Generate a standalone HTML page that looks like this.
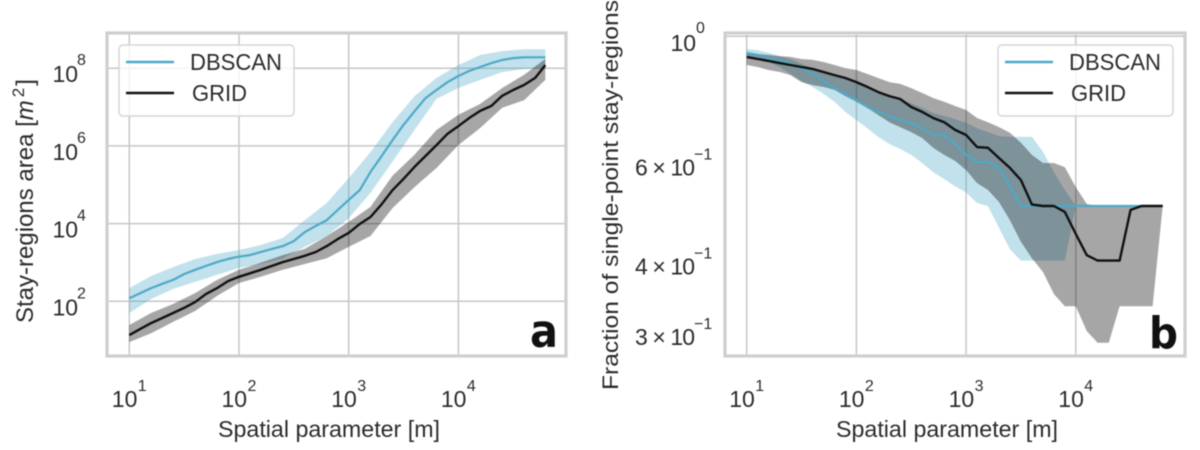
<!DOCTYPE html>
<html lang="en">
<head>
<meta charset="utf-8">
<title>Stay-regions charts</title>
<style>
html,body{margin:0;padding:0;background:#fff;width:1200px;height:450px;overflow:hidden}
svg{display:block;filter:blur(.45px)}
text{font-family:"Liberation Sans",sans-serif;fill:#2b2b2b}
.wm{font-family:"DejaVu Sans",sans-serif;font-weight:700;fill:#111}
</style>
</head>
<body>
<svg id="chart" xmlns="http://www.w3.org/2000/svg" width="1200" height="450" viewBox="0 0 1200 450">
  <g id="panel-a"></g>
  <g id="panel-b"></g>

  <g>
    <rect x="119" y="45" width="175" height="71" rx="4" fill="#fff" fill-opacity=".8" stroke="#d6d6d6" stroke-width="1.5"/>
    <line x1="126" x2="174" y1="62" y2="62" stroke="#4ea9c8" stroke-width="2.4"/>
    <text x="190" y="70" font-size="23" textLength="92" lengthAdjust="spacingAndGlyphs">DBSCAN</text>
    <line x1="126" x2="174" y1="93" y2="93" stroke="#111" stroke-width="2.4"/>
    <text x="192" y="101" font-size="23" textLength="55" lengthAdjust="spacingAndGlyphs">GRID</text>
  </g>
  <g>
    <rect x="998" y="45" width="175" height="71" rx="4" fill="#fff" fill-opacity=".8" stroke="#d6d6d6" stroke-width="1.5"/>
    <line x1="1005" x2="1053" y1="62" y2="62" stroke="#4ea9c8" stroke-width="2.4"/>
    <text x="1069" y="70" font-size="23" textLength="92" lengthAdjust="spacingAndGlyphs">DBSCAN</text>
    <line x1="1005" x2="1053" y1="93" y2="93" stroke="#111" stroke-width="2.4"/>
    <text x="1071" y="101" font-size="23" textLength="55" lengthAdjust="spacingAndGlyphs">GRID</text>
  </g>

  <text x="218" y="437" font-size="23" textLength="222" lengthAdjust="spacingAndGlyphs">Spatial parameter [m]</text>
  <text x="836" y="437" font-size="23" textLength="222" lengthAdjust="spacingAndGlyphs">Spatial parameter [m]</text>
  <text transform="translate(33,323) rotate(-90)" font-size="24">Stay-regions area [<tspan font-style="italic">m</tspan><tspan font-size="17" dy="-9" dx="3">2</tspan><tspan dy="9" dx="2">]</tspan></text>
  <text transform="translate(618,390) rotate(-90)" font-size="22" textLength="390" lengthAdjust="spacingAndGlyphs">Fraction of single-point stay-regions</text>

  <text class="wm" x="530" y="347" font-size="45" textLength="28" lengthAdjust="spacingAndGlyphs">a</text>
  <text class="wm" x="1149" y="348" font-size="44" textLength="29" lengthAdjust="spacingAndGlyphs">b</text>
</svg>

<script>
// Shared x values: spatial parameter in metres
const spatialParams = [10,12.6,15.8,20,25.1,31.6,39.8,50.1,63.1,79.4,100,126,158,200,251,316,398,501,631,794,1000,1260,1580,2000,2510,3160,3980,5010,6310,7940,10000,12600,15800,20000,25100,31600,39800,50100,62000];
const bandParamsA = [10,15.8,25.1,39.8,63.1,100,158,251,398,631,1000,1580,2510,3980,6310,10000,15800,25100,39800,62000];

// Panel a: log10 of stay-region area (m^2)
const areaDbscan = [2.08,2.21,2.34,2.45,2.55,2.70,2.81,2.91,3.01,3.09,3.15,3.19,3.27,3.35,3.42,3.55,3.78,3.94,4.09,4.35,4.61,4.86,5.33,5.74,6.15,6.54,6.89,7.23,7.44,7.64,7.80,7.93,8.03,8.13,8.21,8.26,8.28,8.28,8.28];
const areaGrid = [1.13,1.29,1.44,1.57,1.70,1.83,1.98,2.19,2.34,2.52,2.63,2.72,2.81,2.91,3.01,3.09,3.17,3.27,3.42,3.60,3.76,3.99,4.17,4.50,4.86,5.15,5.46,5.74,6.02,6.31,6.51,6.72,6.90,7.03,7.29,7.44,7.57,7.75,8.08];
const areaDbscanUpper = [2.34,2.65,2.88,3.09,3.22,3.32,3.45,3.63,4.09,4.53,5.17,5.84,6.61,7.28,7.75,8.08,8.34,8.44,8.49,8.49];
const areaDbscanLower = [1.70,2.06,2.32,2.50,2.68,2.86,2.96,3.11,3.40,3.68,4.14,4.79,5.59,6.41,7.21,7.49,7.70,7.90,7.98,8.01];
const areaGridUpper = [1.39,1.70,1.93,2.21,2.55,2.81,2.99,3.19,3.35,3.68,4.04,4.43,5.23,5.77,6.41,6.80,7.08,7.49,7.83,8.24];
const areaGridLower = [0.95,1.18,1.47,1.75,2.14,2.47,2.63,2.81,2.96,3.11,3.40,3.68,4.40,4.94,5.43,6.02,6.46,6.98,7.18,7.70];

// Panel b: fraction of single-point stay-regions
const fracDbscan = [.934,.926,.915,.904,.893,.878,.860,.833,.809,.790,.771,.749,.734,.722,.710,.702,.687,.668,.668,.644,.616,.598,.598,.584,.543,.5,.5,.5,.5,.5,.5,.5,.5,.5,.5,.5,.5,.5,.5];
const fracGrid = [.919,.911,.904,.896,.889,.882,.875,.864,.853,.843,.829,.813,.796,.783,.774,.749,.734,.716,.704,.682,.668,.636,.634,.608,.584,.556,.503,.5,.5,.488,.446,.409,.4,.4,.4,.492,.5,.5,.5];
const fracDbscanUpper = [.949,.945,.934,.922,.911,.893,.878,.864,.853,.843,.833,.816,.800,.783,.774,.761,.746,.731,.722,.713,.702,.687,.676,.665,.663,.663,.663,.624,.574,.534,.5,.5,.5,.5,.5,.5,.5,.5,.5];
const fracDbscanLower = [.926,.915,.900,.882,.857,.833,.813,.790,.765,.734,.710,.687,.663,.644,.631,.616,.596,.574,.558,.542,.529,.506,.5,.457,.419,.4,.4,.4,.4,.4,.5,.5,.5,.5,.5,.5,.5,.5,.5];
const fracGridUpper = [.934,.930,.926,.922,.919,.911,.908,.900,.889,.878,.871,.857,.843,.829,.823,.809,.793,.777,.765,.752,.740,.716,.704,.690,.674,.647,.616,.596,.596,.586,.540,.504,.5,.5,.5,.5,.5,.5,.5];
const fracGridLower = [.889,.882,.871,.864,.853,.829,.819,.813,.803,.783,.765,.746,.725,.704,.690,.676,.660,.634,.616,.601,.579,.549,.534,.508,.472,.432,.404,.382,.349,.332,.332,.300,.286,.286,.332,.332,.332,.332,.5];

// Tick labels
const xTickExponents = [1,2,3,4];
const areaYTickExponents = [2,4,6,8];
const fracYTickValues = [0.6,0.4,0.3];
const fracYTickMantissas = ["6","4","3"];

const NS = "http://www.w3.org/2000/svg";
const BLUE = "#4ea9c8", BLACK = "#111", GRIDC = "#c6c6c6", SPINE = "#cfcfcf";

function mk(parent, tag, attrs, text) {
  const el = document.createElementNS(NS, tag);
  for (const k in attrs) el.setAttribute(k, attrs[k]);
  if (text !== undefined) el.textContent = text;
  parent.appendChild(el);
  return el;
}

// Axis functions
const xA = v => 129.3 + 109.7 * (Math.log10(v) - 1);
const xB = v => 746.7 + 109.7 * (Math.log10(v) - 1);
const yA = e => 301.3 - 38.85 * (e - 2);
const yB = v => 36.2 - 564 * Math.log10(v);

function linePath(xs, ys, fx, fy) {
  return xs.map((x, i) => (i ? "L" : "M") + fx(x).toFixed(1) + " " + fy(ys[i]).toFixed(1)).join("");
}
function bandPath(xs, up, lo, fx, fy) {
  let d = linePath(xs, up, fx, fy);
  for (let i = xs.length - 1; i >= 0; i--) d += "L" + fx(xs[i]).toFixed(1) + " " + fy(lo[i]).toFixed(1);
  return d + "Z";
}

function drawFrame(g, prefix, left, right, top, bottom) {
  const frame = mk(g, "rect", {x:left, y:top, width:right-left, height:bottom-top, fill:"none", stroke:SPINE, "stroke-width":3.2});
  
  
}
function vGrid(g, prefix, fx, top, bottom) {
  xTickExponents.forEach(e => {
    const px = fx(Math.pow(10, e));
    const l = mk(g, "line", {x1:px, x2:px, y1:top, y2:bottom, stroke:GRIDC, "stroke-width":1.5});
    
    
    const t = mk(g, "text", {x:px-17.5, y:407, "font-size":23}, "10");
    
    
    const s = mk(g, "text", {x:px+8.5, y:391, "font-size":16}, String(e));
    
    
  });
}
function series(g, prefix, label, d, opts) {
  const p = mk(g, "path", Object.assign({d:d}, opts));
  
  
  return p;
}

/* Panel a */
(function () {
  const g = document.getElementById("panel-a");
  const [L, R, T, B] = [107, 566, 33, 356];
  vGrid(g, "area", xA, T, B);
  areaYTickExponents.forEach(e => {
    const py = yA(e);
    const l = mk(g, "line", {x1:L, x2:R, y1:py, y2:py, stroke:GRIDC, "stroke-width":1.5});
    
    
    const t = mk(g, "text", {x:52.5, y:py+14, "font-size":23}, "10");
    
    
    const s = mk(g, "text", {x:77, y:py-3, "font-size":16}, String(e));
    
    
  });
  series(g, "area", "dbscan-band", bandPath(bandParamsA, areaDbscanUpper, areaDbscanLower, xA, yA), {fill:BLUE, "fill-opacity":.35});
  series(g, "area", "grid-band", bandPath(bandParamsA, areaGridUpper, areaGridLower, xA, yA), {fill:"#000", "fill-opacity":.35});
  series(g, "area", "dbscan-line", linePath(spatialParams, areaDbscan, xA, yA), {fill:"none", stroke:BLUE, "stroke-width":2.2, "stroke-linejoin":"round"});
  series(g, "area", "grid-line", linePath(spatialParams, areaGrid, xA, yA), {fill:"none", stroke:BLACK, "stroke-width":2.4, "stroke-linejoin":"round"});
  drawFrame(g, "area", L, R, T, B);
})();

/* Panel b */
(function () {
  const g = document.getElementById("panel-b");
  const [L, R, T, B] = [725, 1185, 33, 356];
  vGrid(g, "fraction", xB, T, B);
  const top = mk(g, "line", {x1:L, x2:R, y1:yB(1), y2:yB(1), stroke:GRIDC, "stroke-width":1.5});
  
  
  const t0 = mk(g, "text", {x:670.5, y:51, "font-size":23}, "10");
  
  
  const s0 = mk(g, "text", {x:696, y:33, "font-size":16}, "0");
  
  
  fracYTickValues.forEach((v, i) => {
    const py = yB(v);
    const t = mk(g, "text", {x:635, y:py+14, "font-size":23, textLength:60, lengthAdjust:"spacing"}, fracYTickMantissas[i] + " \u00d7 10");
    
    
    const s = mk(g, "text", {x:694, y:py-2, "font-size":16}, "\u22121");
    
    
  });
  series(g, "fraction", "dbscan-band", bandPath(spatialParams, fracDbscanUpper, fracDbscanLower, xB, yB), {fill:BLUE, "fill-opacity":.35});
  series(g, "fraction", "grid-band", bandPath(spatialParams, fracGridUpper, fracGridLower, xB, yB), {fill:"#000", "fill-opacity":.35});
  series(g, "fraction", "dbscan-line", linePath(spatialParams, fracDbscan, xB, yB), {fill:"none", stroke:BLUE, "stroke-width":2.2, "stroke-linejoin":"round"});
  series(g, "fraction", "grid-line", linePath(spatialParams, fracGrid, xB, yB), {fill:"none", stroke:BLACK, "stroke-width":2.4, "stroke-linejoin":"round"});
  drawFrame(g, "fraction", L, R, T, B);
})();
</script>
</body>
</html>
